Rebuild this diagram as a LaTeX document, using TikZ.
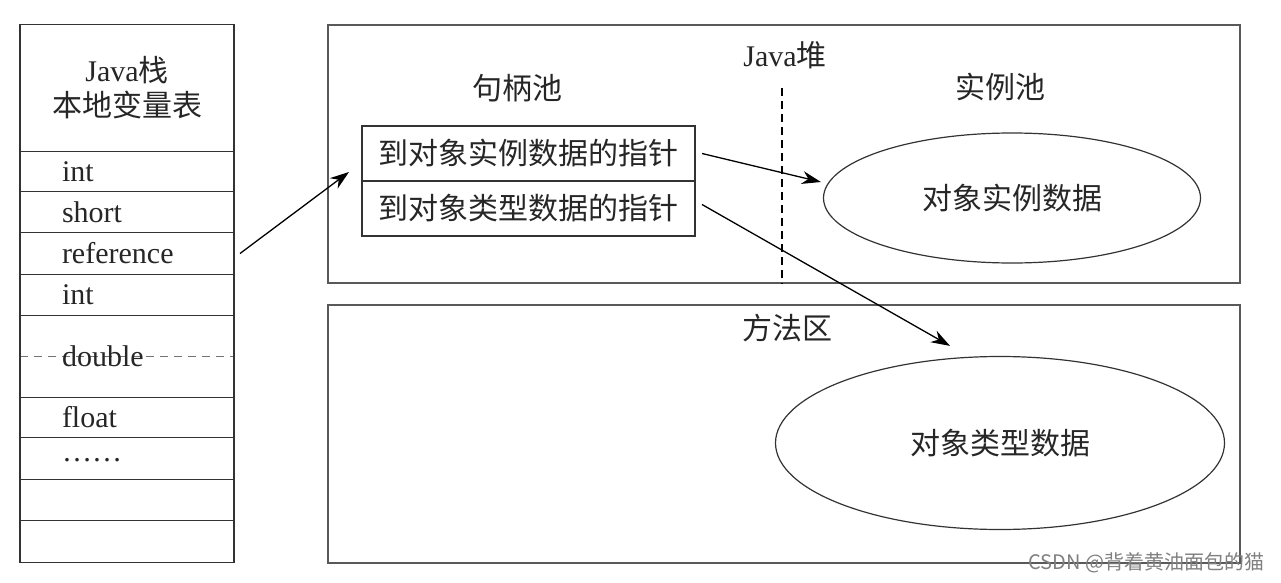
\documentclass[tikz,border=0pt]{standalone}
\usepackage{fontspec}
\setmainfont{Liberation Serif}
\newfontfamily\cjk{Noto Sans CJK SC}
\newcommand{\hanzi}[1]{{\cjk #1}}
\usetikzlibrary{positioning}
\usetikzlibrary{shapes.geometric}
\usetikzlibrary{arrows.meta}

\begin{document}
\begin{tikzpicture}[x=1pt,y=-1pt,->,>={Stealth[length=19pt,width=13pt]},
					line width=1.3pt,text=black!85,
					font=\fontsize{30}{35}\selectfont]
					\tikzstyle{slot}=[draw=black!80, line width=1.5pt, minimum width=214pt, inner xsep=42pt,
					inner ysep=0pt, outer sep=0pt, text width=130pt, align=left]
					\tikzstyle{region}=[draw=black!65, line width=1.5pt, minimum width=912pt,
					minimum height=258pt]
					\tikzstyle{handle}=[draw=black!80, line width=1.5pt, minimum width=333pt, minimum height=55pt,
					inner sep=0pt, outer sep=0pt]
					\tikzstyle{blob}=[ellipse, draw=black!80, line width=1.2pt, inner sep=0pt]
					
					\useasboundingbox (0,0) rectangle (1281,583);
					
					% Java stack
					\node[slot, minimum height=127pt, inner xsep=7pt, text width=200pt, align=center] (head) at (127,88) {Java\hanzi{栈}\\\hanzi{本地变量表}};
					\node[slot, minimum height=40pt, below=0pt of head] (int1) {int};
					\node[slot, minimum height=41pt, below=0pt of int1] (short) {short};
					\node[slot, minimum height=42pt, below=0pt of short] (ref) {reference};
					\node[slot, minimum height=41pt, below=0pt of ref] (int2) {int};
					\node[slot, minimum height=82pt, below=0pt of int2,
					path picture={\draw[-, draw=black!55, line width=1pt, dash pattern=on 8pt off 6pt]
						(path picture bounding box.west) -- (path picture bounding box.east);}] (dbl) {double};
					\node[slot, minimum height=40pt, below=0pt of dbl] (flt) {float};
					\node[slot, minimum height=42pt, below=0pt of flt] (dots) {\raisebox{-6pt}{……}};
					\node[slot, minimum height=41pt, below=0pt of dots] (blank1) {};
					\node[slot, minimum height=42pt, below=0pt of blank1] (blank2) {};
					
					% heap and method area
					\node[region] (heap) at (784,154) {};
					\node[region] (method) at (784,434) {};
					\node (heaplbl) at (785,55) {Java\hanzi{堆}};
					\node (poollbl) at (517,88) {\hanzi{句柄池}};
					\node (instlbl) at (1000,87) {\hanzi{实例池}};
					\node (methodlbl) at (787,328) {\hanzi{方法区}};
					\coordinate (cut) at (782,88);
					\draw[-, line width=1.1pt, dash pattern=on 8pt off 5pt] (cut) -- (cut |- heap.south);
					
					\node[handle] (ptrA) at (528.5,153.5) {\hanzi{到对象实例数据的指针}};
					\node[handle, below=0pt of ptrA] (ptrB) {\hanzi{到对象类型数据的指针}};
					
					\node[blob, minimum width=377pt, minimum height=130pt] (inst) at (1012,198) {\hanzi{对象实例数据}};
					\node[blob, minimum width=449pt, minimum height=173pt] (cls) at (1000,443) {\hanzi{对象类型数据}};
					
					\path ([xshift=6pt]ref.east) edge ([xshift=-13pt,yshift=9pt]ptrA.south west)
					([xshift=7pt]ptrA.east) edge ([xshift=-2pt,yshift=16pt]inst.west)
					([xshift=7pt,yshift=4pt]ptrB.east) edge ([xshift=-50pt,yshift=10pt]cls.north);
					
					\node[anchor=east, text=black!50, font=\cjk\fontsize{20}{24}\selectfont] (mark) at (1268,563) {CSDN @背着黄油面包的猫};
					\end{tikzpicture}
\end{document}
